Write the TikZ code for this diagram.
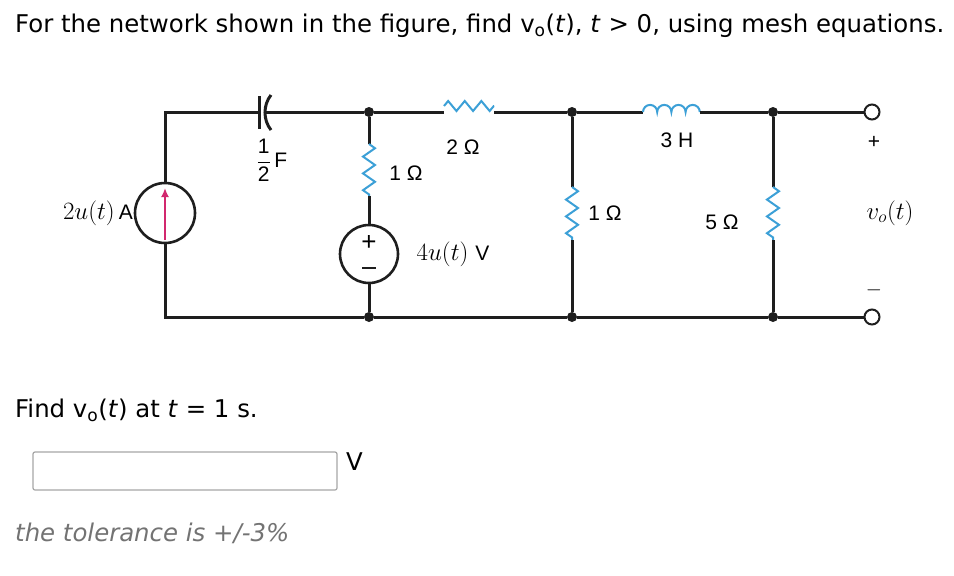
\documentclass[tikz,border=0pt]{standalone}
\usepackage{fontspec}
\setmainfont{DejaVu Sans}
\newfontfamily\lab{Liberation Sans}
\usetikzlibrary{decorations.pathmorphing,arrows.meta}
\definecolor{rblue}{RGB}{60,160,215}
\definecolor{wire}{RGB}{30,30,30}
\definecolor{arrowc}{RGB}{210,40,110}
\begin{document}
\begin{tikzpicture}[x=1pt,y=-1pt,
  w/.style={draw=wire,line width=3pt},
  res/.style={draw=rblue,line width=2pt,decorate,decoration={zigzag,segment length=16.8pt,amplitude=6pt}},
  dot/.style={circle,fill=wire,inner sep=0pt,minimum size=10pt},
  term/.style={circle,draw=wire,line width=2pt,fill=white,inner sep=0pt,minimum size=15pt},
  src/.style={circle,draw=wire,line width=2.6pt,inner sep=0pt},
  lb/.style={font=\lab\fontsize{21}{24}\selectfont,inner sep=0pt},
  mlb/.style={font=\lab\fontsize{25}{28}\selectfont,inner sep=0pt},
  txt/.style={font=\fontsize{24.4}{28}\selectfont,inner sep=0pt,anchor=west}]
\useasboundingbox (0,0) rectangle (954,576);
\fill[white] (0,0) rectangle (954,576);
\node[txt] (title) at (15,26) {For the network shown in the figure, find v\textsubscript{o}(\textit{t}), \textit{t} > 0, using mesh equations.};
% coordinates
\coordinate (tl) at (165,112); \coordinate (bl) at (165,317);
\node[src,minimum size=60pt] (is) at (165,213) {};
\node[dot] (n1) at (369,112) {}; \node[dot] (b1) at (369,317) {};
\node[dot] (n2) at (572,112) {}; \node[dot] (b2) at (572,317) {};
\node[dot] (n3) at (773,112) {}; \node[dot] (b3) at (773,317) {};
\node[term] (tp) at (872,112) {}; \node[term] (tm) at (872,317) {};
\node[src,minimum size=58pt] (vs) at (369,254) {};
% left loop
\coordinate (c1) at (259,112); \coordinate (c2) at (265,112);
\draw[w] (is.north) -- (tl) -- (c1);
\draw[w] (259,96) -- (259,129);
\draw[w] (271,95) .. controls (263,105) and (263,120) .. (271,130);
\draw[w] (c2) -- (n1);
\draw[w] (is.south) -- (bl) -- (b1) -- (b2) -- (b3) -- (tm);
\draw[-{Latex[length=9pt,width=8pt]},arrowc,line width=2pt] (165,240) -- (165,188);
% middle branch
\coordinate (r1a) at (369,144); \coordinate (r1b) at (369,196);
\draw[w] (n1) -- (r1a); \draw[res] (r1a) -- (r1b); \draw[w] (r1b) -- (vs.north);
\draw[w] (vs.south) -- (b1);
\node[lb,font=\lab\fontsize{26}{26}\selectfont] at (369,243) {+};
\draw[wire,line width=1.6pt] (362,268) -- (376,268);
% top 2 ohm
\coordinate (r2a) at (444,106); \coordinate (r2b) at (494,106);
\draw[w] (n1) -- (444,112); \draw[res,decoration={zigzag,segment length=16.6pt,amplitude=5pt}] (r2a) -- (r2b); \draw[w] (494,112) -- (n2);
% 1 ohm
\coordinate (r3a) at (572,187); \coordinate (r3b) at (572,240);
\draw[w] (n2) -- (r3a); \draw[res] (r3a) -- (r3b); \draw[w] (r3b) -- (b2);
% inductor
\draw[w] (n2) -- (643,112);
\draw[rblue,line width=2pt] (643,112) arc[start angle=180,end angle=360,radius=7.1] arc[start angle=180,end angle=360,radius=7.1] arc[start angle=180,end angle=360,radius=7.1] arc[start angle=180,end angle=360,radius=7.1];
\draw[w] (700,112) -- (n3);
% 5 ohm
\coordinate (r4a) at (773,187); \coordinate (r4b) at (773,240);
\draw[w] (n3) -- (r4a); \draw[res] (r4a) -- (r4b); \draw[w] (r4b) -- (b3);
\draw[w] (n3) -- (tp);
% labels
\node[mlb] at (98,213) {$2u(t)$\,\fontsize{21}{24}\selectfont A};
\node[lb] at (272,160) {$\displaystyle\frac{\hbox{1}}{\hbox{2}}$\,F};
\node[lb] at (406,173) {1 Ω};
\node[lb] at (463,147) {2 Ω};
\node[mlb] at (453,254) {$4u(t)$ \fontsize{21}{24}\selectfont V};
\node[lb] at (605,213) {1 Ω};
\node[lb] at (677,140) {3 H};
\node[lb] at (722,222) {5 Ω};
\node[lb] at (874,142) {+};
\node[lb] at (874,290) {$-$};
\node[mlb] at (890,213) {$v_o(t)$};
% question
\node[txt] (q) at (15,410) {Find v\textsubscript{o}(\textit{t}) at \textit{t} = 1 s.};
\node[draw=gray!70,line width=1.2pt,rounded corners=2pt,minimum width=304pt,minimum height=38pt,inner sep=0pt] (box) at (185,471) {};
\node[txt] (v) at (346,462) {V};
\node[txt,text=gray!90!black] (tol) at (15,533) {\itshape the tolerance is +/-3\%};
\end{tikzpicture}
\end{document}
